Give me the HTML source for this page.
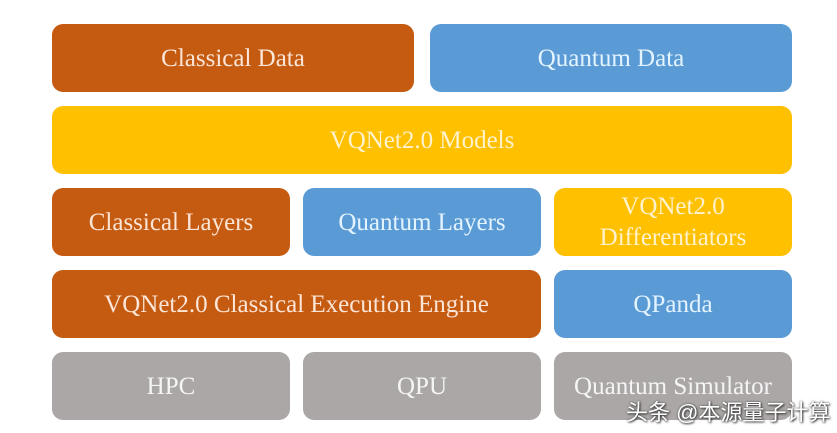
<!DOCTYPE html>
<html><head><style>
body{margin:0;width:837px;height:433px;background:#fff;position:relative;overflow:hidden;font-family:"Liberation Serif",serif;}
.b{position:absolute;border-radius:11px;display:flex;align-items:center;justify-content:center;text-align:center;font-size:25px;line-height:31px;}
.o{background:#C55A11;color:#FBE5D6}
.u{background:#5B9BD5;color:#E3F3FF}
.y{background:#FFC000;color:#FFF2CC}
.g{background:#ABA7A6;color:#F5F5F5}
.w{position:absolute;left:626px;top:395px;font-family:"Liberation Sans","Noto Sans CJK SC",sans-serif;font-size:22px;color:#fff;text-shadow:1px 1px 2px #333,0 0 2px #555;}
</style></head><body>
<div class="b o" style="left:52px;top:24px;width:362px;height:68px">Classical Data</div>
<div class="b u" style="left:430px;top:24px;width:362px;height:68px">Quantum Data</div>
<div class="b y" style="left:52px;top:106px;width:740px;height:68px">VQNet2.0 Models</div>
<div class="b o" style="left:52px;top:188px;width:238px;height:68px">Classical Layers</div>
<div class="b u" style="left:303px;top:188px;width:238px;height:68px">Quantum Layers</div>
<div class="b y" style="left:554px;top:188px;width:238px;height:68px">VQNet2.0<br>Differentiators</div>
<div class="b o" style="left:52px;top:270px;width:489px;height:68px">VQNet2.0 Classical Execution Engine</div>
<div class="b u" style="left:554px;top:270px;width:238px;height:68px">QPanda</div>
<div class="b g" style="left:52px;top:352px;width:238px;height:68px">HPC</div>
<div class="b g" style="left:303px;top:352px;width:238px;height:68px">QPU</div>
<div class="b g" style="left:554px;top:352px;width:238px;height:68px">Quantum Simulator</div>
<div class="w">头条 @本源量子计算</div>
</body></html>
